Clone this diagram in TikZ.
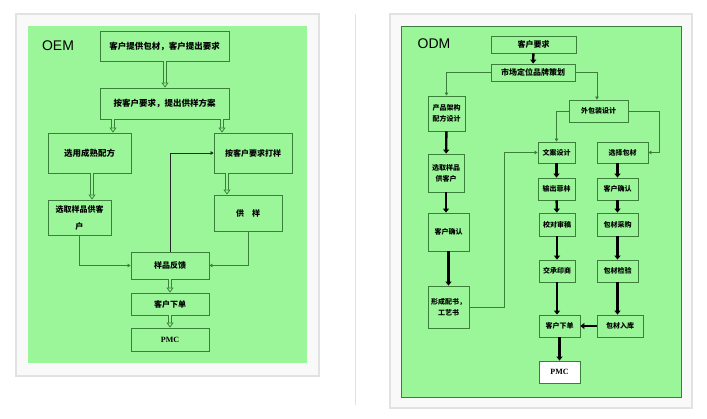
\documentclass[tikz,border=0pt]{standalone}
\usepackage{fontspec}
\setmainfont{Liberation Serif}
\newfontfamily\cjk{Noto Sans CJK SC}
\newfontfamily\latinsans{Liberation Sans}
\usetikzlibrary{arrows.meta,calc}
\definecolor{leafGreen}{RGB}{154,246,152}
\definecolor{edgeGreen}{RGB}{58,128,58}
\definecolor{frameGray}{RGB}{226,226,226}
\definecolor{paperGray}{RGB}{249,249,249}
\tikzset{
  box/.style={draw=edgeGreen, fill=leafGreen, line width=0.8pt, align=center,
              inner sep=1pt, font=\cjk\bfseries\fontsize{7}{11}\selectfont},
  bigbox/.style={box, font=\cjk\bfseries\fontsize{8.5}{13}\selectfont},
  midbox/.style={box, font=\cjk\bfseries\fontsize{8}{17}\selectfont},
  pmcbox/.style={box, font=\bfseries\fontsize{8}{10}\selectfont},
  hollow/.style={draw=edgeGreen, double=leafGreen, double distance=2.2pt, line width=0.75pt,
                 -{Triangle[open, length=5pt, width=7pt, fill=leafGreen]}},
  thin/.style={draw=edgeGreen, line width=0.9pt, -{Triangle[length=3pt, width=3.5pt]}},
  thick/.style={draw=black, line width=2.4pt, -{Triangle[length=4pt, width=6pt]}},
  tag/.style={font=\latinsans\fontsize{14}{14}\selectfont}
}
\begin{document}
\begin{tikzpicture}[x=1pt, y=-1pt]
\useasboundingbox (0,0) rectangle (707,419);
% frames
\draw[frameGray, line width=1.5pt, fill=paperGray] (16,14) rectangle (319,376);
\fill[leafGreen] (28,26) rectangle (307,363);
\draw[frameGray, line width=1pt] (355,14) -- (355,405);
\draw[frameGray, line width=1.5pt, fill=paperGray] (390,14) rectangle (692,408);
\draw[edgeGreen, line width=0.8pt, fill=leafGreen] (401,26) rectangle (681,397);

% OEM
\node[tag] (oem) at (58,46) {OEM};
\node[bigbox, minimum width=129pt, minimum height=30pt] (n1) at (164.5,46) {客户提供包材，客户提出要求};
\node[bigbox, minimum width=129pt, minimum height=31pt] (n2) at (164.5,103.5) {按客户要求，提出供样方案};
\node[bigbox, minimum width=83pt, minimum height=40pt] (n3) at (89.5,153) {选用成熟配方};
\node[midbox, minimum width=78pt, minimum height=40pt] (n4) at (253,153) {按客户要求打样};
\node[midbox, minimum width=63pt, minimum height=35pt] (n5) at (79.5,217.5) {选取样品供客\\户};
\node[midbox, minimum width=68pt, minimum height=36pt] (n6) at (248,213) {供\quad 样};
\node[midbox, minimum width=78pt, minimum height=27pt] (n7) at (170,265.5) {样品反馈};
\node[midbox, minimum width=78pt, minimum height=22pt] (n8) at (170,304) {客户下单};
\node[pmcbox, minimum width=78pt, minimum height=23pt] (n9) at (170,339.5) {PMC};

\draw[hollow] ([xshift=0.5pt]n1.south) -- ([xshift=0.5pt]n2.north);
\draw[hollow] ([xshift=-51.5pt]n2.south) -- ([xshift=23.5pt]n3.north);
\draw[hollow] ([xshift=57.5pt]n2.south) -- ([xshift=-31pt]n4.north);
\draw[hollow] ([xshift=2.5pt]n3.south) -- ([xshift=12.5pt]n5.north);
\draw[hollow] ([xshift=-26pt]n4.south) -- ([xshift=-21pt]n6.north);
\draw[hollow] (n7.south) -- (n8.north);
\draw[hollow] (n8.south) -- (n9.north);
\draw[thin] (n5.south) |- (n7.west);
\draw[thin] (n6.south) |- (n7.east);
\draw[thin, draw=black!85] (n7.north) |- (n4.west);

% ODM
\node[tag] (odm) at (434,44) {ODM};
\node[box, font=\cjk\bfseries\fontsize{8}{10}\selectfont, minimum width=85pt, minimum height=17pt] (r1) at (533.5,44.5) {客户要求};
\node[box, font=\cjk\bfseries\fontsize{8}{10}\selectfont, minimum width=84pt, minimum height=17pt] (r2) at (533,72.5) {市场定位品牌策划};
\node[box, minimum width=37pt, minimum height=35pt] (r3) at (446.5,113.5) {产品架构\\配方设计};
\node[box, minimum width=59pt, minimum height=22pt] (r4) at (598.5,111) {外包装设计};
\node[box, minimum width=36pt, minimum height=38pt] (r5) at (446,173) {选取样品\\供客户};
\node[box, minimum width=37pt, minimum height=21pt] (r6) at (556.5,152.5) {文案设计};
\node[box, minimum width=51pt, minimum height=21pt] (r7) at (622.5,152.5) {选择包材};
\node[box, minimum width=37pt, minimum height=22pt] (r8) at (556.5,189) {输出菲林};
\node[box, minimum width=41pt, minimum height=22pt] (r9) at (617.5,189) {客户确认};
\node[box, minimum width=41pt, minimum height=38pt] (r10) at (448.5,232) {客户确认};
\node[box, minimum width=36pt, minimum height=23pt] (r11) at (557,224.5) {校对审稿};
\node[box, minimum width=41pt, minimum height=23pt] (r12) at (617.5,224.5) {包材采购};
\node[box, minimum width=36pt, minimum height=22pt] (r13) at (557,271) {交承印商};
\node[box, minimum width=41pt, minimum height=22pt] (r14) at (617.5,271) {包材检验};
\node[box, minimum width=41pt, minimum height=42pt] (r15) at (448.5,307) {形成配书，\\工艺书};
\node[box, minimum width=41pt, minimum height=22pt] (r16) at (559.5,326) {客户下单};
\node[box, minimum width=46pt, minimum height=22pt] (r17) at (620,326) {包材入库};
\node[pmcbox, fill=white, minimum width=41pt, minimum height=22pt] (r18) at (559.5,372) {PMC};
\coordinate (t1) at (659,152.5);
\coordinate (t2) at (504,152.5);

\draw[thick] (r1) -- (r2);
\draw[thin] (r2.west) -| (r3.north);
\draw[thin] (r2.east) -| ([xshift=-1.5pt]r4.north);
\draw[thin] (r4.west) -| (r6.north);
\draw[thin] (r4.east) -| (t1) -- (r7.east);
\draw[thin] (r15.east) -| (t2) -- (r6.west);
\draw[thick] (r3) -- (r5);
\draw[thick] (r5.south) -- (r5.south |- r10.north);
\draw[thick] (r10.south) -- (r10.south |- r15.north);
\draw[thick] (r6) -- (r8);
\draw[thick] (r8) -- (r11);
\draw[thick] (r11) -- (r13);
\draw[thick] (r13.south) -- (r13.south |- r16.north);
\draw[thick] (r16.south) -- (r16.south |- r18.north);
\draw[thick] (r7.south -| r9) -- (r9);
\draw[thick] (r9) -- (r12);
\draw[thick] (r12) -- (r14);
\draw[thick] (r14.south) -- (r14.south |- r17.north);
\draw[thick] (r17) -- (r16);
\end{tikzpicture}
\end{document}
